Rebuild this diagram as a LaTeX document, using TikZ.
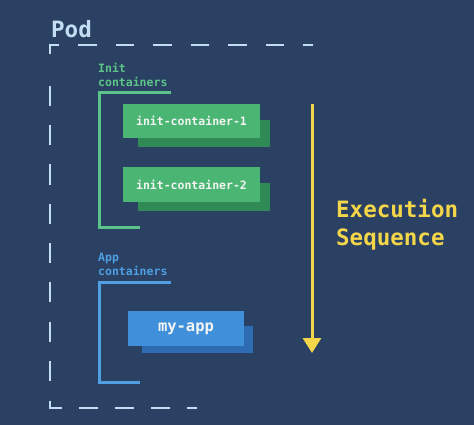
\documentclass[tikz,border=0pt]{standalone}
\usepackage{fontspec}
\setmonofont{DejaVu Sans Mono}
\usetikzlibrary{arrows.meta}
\definecolor{podbg}{HTML}{2A4163}
\definecolor{podline}{HTML}{C3DDF5}
\definecolor{initline}{HTML}{5CC488}
\definecolor{initfill}{HTML}{4BB673}
\definecolor{initshade}{HTML}{2F8A56}
\definecolor{appline}{HTML}{4F9FE2}
\definecolor{appfill}{HTML}{3F8FDB}
\definecolor{appshade}{HTML}{2D6CB3}
\definecolor{seqyellow}{HTML}{F4D64A}
\definecolor{boxtext}{HTML}{F2F5F2}
\pgfdeclarelayer{backdrop}
\pgfdeclarelayer{shade}
\pgfsetlayers{backdrop,shade,main}
\begin{document}
\begin{tikzpicture}
  [x=1pt,y=-1pt,
  small/.style={font=\ttfamily\bfseries\fontsize{11.5}{14}\selectfont},
  big/.style={font=\ttfamily\bfseries\fontsize{22.5}{28}\selectfont},
  grouplabel/.style={small,inner sep=0pt,anchor=base west,align=left},
  podframe/.style={podline,line width=2.4pt},
  bracket/.style={line width=3pt},
  initbox/.style={small,fill=initfill,text=boxtext,inner sep=0pt,
    minimum width=137pt,minimum height=34pt},
  appbox/.style={initbox,fill=appfill,minimum width=116pt,minimum height=35pt,
    font=\ttfamily\bfseries\fontsize{15.5}{18}\selectfont},
  seqarrow/.style={seqyellow,line width=3pt,-{Triangle[width=18pt,length=15pt]}}]
  \begin{pgfonlayer}{backdrop}
    \fill[podbg] (0,0) rectangle (474,425);
  \end{pgfonlayer}
  \useasboundingbox (0,0) rectangle (474,425);
  % pod
  \node[big,podline,inner sep=0pt,anchor=base west] (pod) at (51,38) {Pod};
  \draw[podframe,dash pattern=on 18.5pt off 19pt,dash phase=8.5pt]
    (313,45) -- (50,45) -- (50,60);
  \draw[podframe,dash pattern=on 20pt off 19.3pt] (50,381) -- (50,82);
  \draw[podframe,dash pattern=on 18.5pt off 17.5pt,dash phase=8.5pt]
    (197,408) -- (50,408) -- (50,398);
  % init containers
  \node[grouplabel,initline] (initlabel) at (98,87) {Init\\containers};
  \draw[bracket,initline] (171,93) -- (99.5,93) -- (99.5,227) -- (140,227);
  \foreach \i/\y in {1/121,2/184.5} {
    \node[initbox] (ic\i) at (191.5,\y) {init-container-\i};
    \begin{pgfonlayer}{shade}
      \fill[initshade] ([shift={(15,9)}]ic\i.south west) rectangle ([shift={(10,16)}]ic\i.north east);
    \end{pgfonlayer}
  }
  % app containers
  \node[grouplabel,appline] (applabel) at (98,275) {App\\containers};
  \draw[bracket,appline] (171,282) -- (99.5,282) -- (99.5,382) -- (140,382);
  \node[appbox] (myapp) at (186,328.5) {my-app};
  \begin{pgfonlayer}{shade}
    \fill[appshade] ([shift={(14,7)}]myapp.south west) rectangle ([shift={(9,15)}]myapp.north east);
  \end{pgfonlayer}
  % sequence
  \coordinate (seqstart) at (312,104);
  \coordinate (seqend) at (312,353);
  \draw[seqarrow] (seqstart) -- (seqend);
  \node[big,seqyellow,inner sep=0pt,anchor=base west,align=left] (seqlabel) at (336,245) {Execution\\Sequence};
\end{tikzpicture}
\end{document}
